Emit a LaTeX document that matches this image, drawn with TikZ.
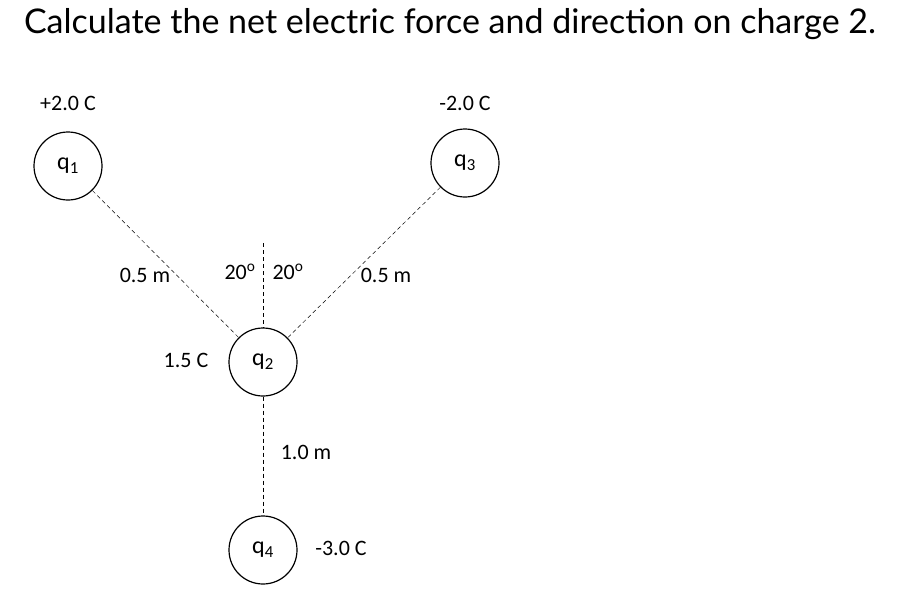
\documentclass[tikz,border=0pt]{standalone}
\usepackage{fontspec}
\setmainfont{Carlito}
\newfontfamily\titlefont{Lato}
\begin{document}
\begin{tikzpicture}[x=1pt,y=-1pt,
  charge/.style={circle,draw,line width=1.2pt,minimum size=68pt,inner sep=0pt,font=\fontsize{24}{28}\selectfont},
  lbl/.style={font=\fontsize{22}{26}\selectfont},
  dashline/.style={dashed,dash pattern=on 4pt off 3pt,line width=0.5pt}]
\useasboundingbox (0,0) rectangle (920,605);
\node[font=\titlefont\fontsize{34}{40}\selectfont] (title) at (450,24) {Calculate the net electric force and direction on charge 2.};
\node[charge] (q1) at (68,166) {q\textsubscript{1}};
\node[charge] (q3) at (465,163) {q\textsubscript{3}};
\node[charge] (q2) at (263,362) {q\textsubscript{2}};
\node[charge] (q4) at (263,550) {q\textsubscript{4}};
\coordinate (top) at (263,243);
\draw[dashline] (q1) -- (q2);
\draw[dashline] (q3) -- (q2);
\draw[dashline] (top) -- (q2);
\draw[dashline] (q2) -- (q4);
\node[lbl] (l1) at (68,103) {+2.0 C};
\node[lbl] (l3) at (465,103) {-2.0 C};
\node[lbl] (d1) at (145,275) {0.5 m};
\node[lbl] (a1) at (240,272) {20\textsuperscript{o}};
\node[lbl] (a2) at (288,272) {20\textsuperscript{o}};
\node[lbl] (d3) at (386,275) {0.5 m};
\node[lbl] (l2) at (186,360) {1.5 C};
\node[lbl] (d4) at (306,452) {1.0 m};
\node[lbl] (l4) at (341,548) {-3.0 C};
\end{tikzpicture}
\end{document}
